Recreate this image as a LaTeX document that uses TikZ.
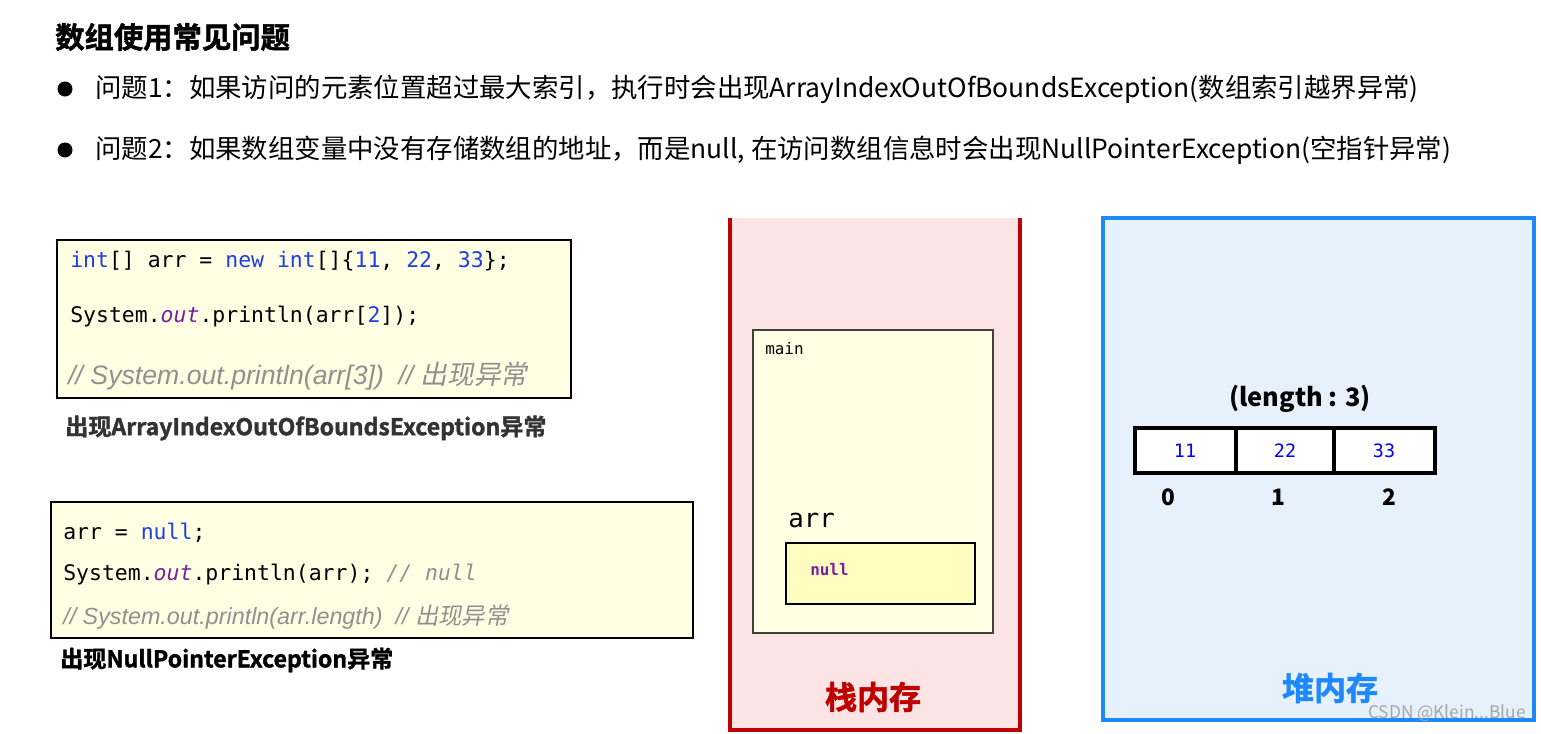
\documentclass[tikz,border=0pt]{standalone}
\usepackage{fontspec}
\setmainfont{Noto Sans CJK SC}
\newfontfamily\cjkb[FakeBold=1.5]{Noto Sans CJK SC Bold}
\newfontfamily\codefont{DejaVu Sans Mono}[Scale=0.92]
\newfontfamily\cmtfont{Liberation Sans}
\newfontfamily\cmtcjk{Noto Sans CJK SC}[FakeSlant=0.2]
\definecolor{kw}{HTML}{1F3FE0}
\definecolor{pur}{HTML}{7A1FA0}
\definecolor{boxy}{HTML}{FFFFE3}
\definecolor{stk}{HTML}{FDE4E4}
\definecolor{stkred}{HTML}{C00000}
\definecolor{hp}{HTML}{E6F1FC}
\definecolor{hpblue}{HTML}{1E88FF}
\definecolor{cmt}{HTML}{909090}
\begin{document}
\begin{tikzpicture}[x=0.75pt,y=-0.75pt,
  txt/.style={inner sep=0pt,anchor=west},
  code/.style={txt,font=\codefont\fontsize{17.5pt}{20pt}\selectfont},
  comm/.style={txt,text=cmt,font=\cmtfont\itshape\fontsize{20pt}{22pt}\selectfont},
  codebox/.style={draw=black,fill=boxy,line width=1pt},
  cellnum/.style={inner sep=0pt,text=blue,font=\codefont\fontsize{15pt}{17pt}\selectfont},
  idx/.style={font=\bfseries\fontsize{17pt}{19pt}\selectfont}]
\useasboundingbox (0,0) rectangle (1541,733);
\fill[white] (0,0) rectangle (1541,733);
\node[txt] (title) at (55,37) {\cjkb\fontsize{22pt}{25pt}\selectfont 数组使用常见问题};
\fill (65,89) circle (7.5);
\fill (65,150) circle (7.5);
\node[txt] (b1) at (95,89) {\fontsize{19.8pt}{23pt}\selectfont 问题1：如果访问的元素位置超过最大索引，执行时会出现ArrayIndexOutOfBoundsException(数组索引越界异常)};
\node[txt] (b2) at (95,150) {\fontsize{19.8pt}{23pt}\selectfont 问题2：如果数组变量中没有存储数组的地址，而是null, 在访问数组信息时会出现NullPointerException(空指针异常)};
% box 1
\draw[codebox] (57,240) rectangle (571,398);
\node[code] (c11) at (70,261) {\textcolor{kw}{int}[] arr = \textcolor{kw}{new} \textcolor{kw}{int}[]\{\textcolor{kw}{11}, \textcolor{kw}{22}, \textcolor{kw}{33}\};};
\node[code] (c12) at (70,317) {System.\textcolor{pur}{\itshape out}.println(arr[\textcolor{kw}{2}]);};
\node[comm] (c13) at (68,376) {// System.out.println(arr[3])\ \ // {\cmtcjk 出现异常}};
\node[txt] (l1) at (65,428) {\cjkb\fontsize{17.3pt}{20pt}\selectfont\color[HTML]{333333}出现ArrayIndexOutOfBoundsException异常};
% box 2
\draw[codebox] (51,502) rectangle (693,638);
\node[code] (c21) at (63,533) {arr = \textcolor{kw}{null};};
\node[code] (c22) at (63,575) {System.\textcolor{pur}{\itshape out}.println(arr); \textcolor{cmt}{\itshape // null}};
\node[comm,font=\cmtfont\itshape\fontsize{17.5pt}{20pt}\selectfont] (c23) at (63,617) {// System.out.println(arr.length)\ \ // {\cmtcjk 出现异常}};
\node[txt] (l2) at (60,660) {\cjkb\fontsize{17.3pt}{20pt}\selectfont 出现NullPointerException异常};
% stack
\fill[stk] (730,218) rectangle (1020,730);
\draw[stkred,line width=3.5pt] (730,218) -- (730,730) -- (1020,730) -- (1020,218);
\draw[fill=boxy,draw=black!75,line width=1pt] (753,330) rectangle (993,633);
\node[txt] (main) at (765,349) {\codefont\fontsize{13pt}{15pt}\selectfont main};
\node[txt] (arr) at (788,520) {\codefont\fontsize{21pt}{24pt}\selectfont arr};
\draw[fill=yellow!25,draw=black,line width=1.5pt] (786,543) rectangle (975,604);
\node[txt] (null) at (810,570) {\codefont\bfseries\fontsize{13pt}{15pt}\selectfont\color{pur}null};
\node (stack) at (873,697) {\cjkb\fontsize{24pt}{27pt}\selectfont\color{stkred}栈内存};
% heap
\draw[fill=hp,draw=hpblue,line width=3.5pt] (1103,218) rectangle (1534,720);
\node (len) at (1300,399) {\bfseries\fontsize{19pt}{22pt}\selectfont (length : 3)};
\draw[line width=2.5pt,fill=white] (1135,428) rectangle (1435,473);
\draw[line width=2.5pt] (1236,428) -- (1236,473) (1334,428) -- (1334,473);
\node[cellnum] (v1) at (1185,451) {11};
\node[cellnum] (v2) at (1285,451) {22};
\node[cellnum] (v3) at (1384,451) {33};
\node[idx] (i0) at (1168,497) {0};
\node[idx] (i1) at (1278,497) {1};
\node[idx] (i2) at (1389,497) {2};
\node (heap) at (1330,688) {\cjkb\fontsize{24pt}{27pt}\selectfont\color{hpblue}堆内存};
\node[anchor=east,inner sep=0pt] (wm) at (1526,713) {\fontsize{13pt}{15pt}\selectfont\color{black!35}CSDN @Klein...Blue};
\end{tikzpicture}
\end{document}
